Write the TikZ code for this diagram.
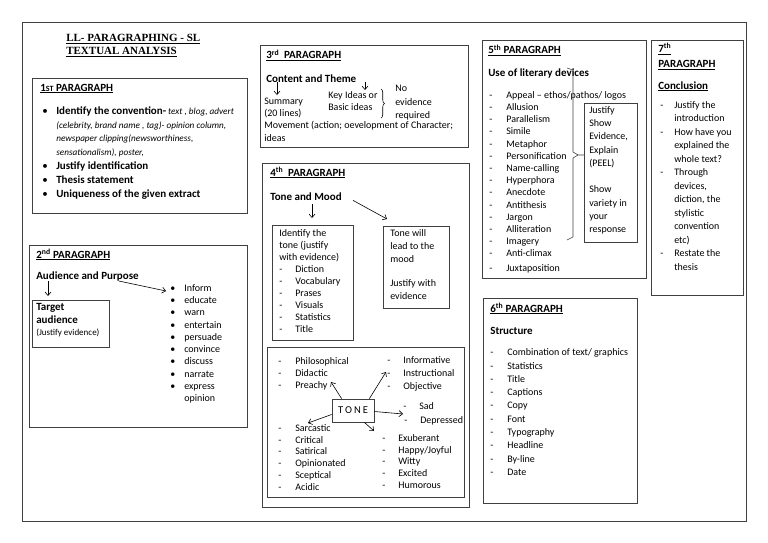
\documentclass[tikz,border=0pt]{standalone}
\usepackage{fontspec}
\setmainfont{Carlito}
\newfontfamily\ttlfont{Liberation Serif}
\usetikzlibrary{arrows.meta,decorations.pathreplacing}
\newcommand{\dd}[2][17pt]{\makebox[#1][l]{-}#2}
\newcommand{\bu}[1]{\makebox[14pt][l]{\textbullet}#1}
\newcommand{\itl}{\fontsize{9.2}{13.8}\selectfont\itshape}
\tikzset{
  frame/.style={draw=black!75, line width=.8pt},
  txt/.style={anchor=north west, inner sep=0pt, align=left, font=\fontsize{10}{#1}\selectfont},
  txt/.default=12,
  hd/.style={anchor=base west, inner sep=0pt, align=left, font=\fontsize{11}{14}\selectfont\bfseries},
}
\begin{document}
\begin{tikzpicture}[>={Straight Barb[length=3.5pt,width=6pt]}, x=1pt, y=-1pt, every path/.append style={line width=.6pt}]
\useasboundingbox (0,0) rectangle (768,543);
\draw[frame] (22,22) rectangle (746,521);
\node[txt, font=\ttlfont\fontsize{11}{13.5}\selectfont\bfseries] (ttl) at (66,33.7) {\underline{LL- PARAGRAPHING - SL}\\\underline{TEXTUAL ANALYSIS}};

\draw[frame] (32,78) rectangle (247,213);
\node[hd] (h1) at (40,91) {\underline{1{\fontsize{8}{8}\selectfont ST} PARAGRAPH}};
\node[txt, font=\fontsize{11}{13.8}\selectfont] (conv) at (42,106.3) {\bu{\textbf{Identify the convention-}}{\itl\ text , blog, advert}\\
\hspace*{14pt}{\itl (celebrity, brand name , tag)- opinion column,}\\
\hspace*{14pt}{\itl newspaper clipping(newsworthiness,}\\
\hspace*{14pt}{\itl sensationalism), poster,}\\
\bu{\textbf{Justify identification}}\\
\bu{\textbf{Thesis statement}}\\
\bu{\textbf{Uniqueness of the given extract}}};

\draw[frame] (29,245) rectangle (247,427);
\node[hd] (h2) at (36,258) {\underline{2\textsuperscript{nd} PARAGRAPH}};
\node[hd] (ap) at (36,279) {Audience and Purpose};
\draw[frame] (32,300) rectangle (109,347);
\node[txt, font=\fontsize{11}{12.5}\selectfont] (tgt) at (36,303.5) {\textbf{Target}\\\textbf{audience}\\{\fontsize{9}{12.5}\selectfont(Justify evidence)}};
\node[txt=12.3] (purp) at (170,284) {\bu{Inform}\\\bu{educate}\\\bu{warn}\\\bu{entertain}\\\bu{persuade}\\\bu{convince}\\\bu{discuss}\\\bu{narrate}\\\bu{express}\\\hspace*{14pt}opinion};
\coordinate (tgttop) at (48,296);
\coordinate (purpin) at (166,291);
\draw[->] (ap.south west -| tgttop) -- (tgttop);
\draw[->] ([xshift=-20pt]ap.south east) -- (purpin);

\draw[frame] (260,45) rectangle (468,147);
\node[hd] (h3) at (266,59) {\underline{3\textsuperscript{rd}\ \ PARAGRAPH}};
\node[hd] (ct) at (266,82) {Content and Theme};
\node[txt=12] (summ) at (264,98) {Summary\\(20 lines)};
\node[txt=12.5] (key) at (328,91) {Key Ideas or\\Basic ideas};
\node[txt=13.5] (noev) at (395,85) {No\\evidence\\required};
\node[txt=13] (mov) at (264,121) {Movement (action; oevelopment of Character;\\ideas};
\coordinate (st) at (277,95);
\coordinate (kt) at (365,90);
\draw[->] (ct.south west -| st) -- (st);
\draw[->] (kt |- ct.base) -- (kt);
\draw[decorate, decoration={brace, amplitude=3.5pt}] (381,89) -- (381,118);

\draw[frame] (262,163) rectangle (469,507);
\node[hd] (h4) at (270,176) {\underline{4\textsuperscript{th}\ \ PARAGRAPH}};
\node[hd] (tm) at (270,200) {Tone and Mood};
\draw[frame] (272,225) rectangle (353,340);
\node[txt=12] (ident) at (279,229) {Identify the\\tone (justify\\with evidence)\\\dd[16pt]{Diction}\\\dd[16pt]{Vocabulary}\\\dd[16pt]{Prases}\\\dd[16pt]{Visuals}\\\dd[16pt]{Statistics}\\\dd[16pt]{Title}};
\draw[frame] (383,226) rectangle (449,308);
\node[txt=13.3] (lead) at (390,229) {Tone will\\lead to the\\mood\\[10pt]Justify with\\evidence};
\coordinate (identin) at (312,218);
\coordinate (leadin) at (387,219);
\draw[->] ([yshift=-4pt]tm.south west -| identin) -- (identin);
\draw[->] ([xshift=11pt]tm.south east) -- (leadin);

\draw[frame] (267,347) rectangle (464,497);
\node[draw=black!75, line width=.8pt, minimum width=42pt, minimum height=23pt, inner sep=0pt, font=\fontsize{10.5}{12}\selectfont] (tone) at (353,410.5) {T\kern2pt O\kern2pt N\kern2pt E};
\node[txt=12] (phil) at (278,357) {\dd{Philosophical}\\\dd{Didactic}\\\dd{Preachy}};
\node[txt=13] (info) at (387,356) {\dd[16pt]{Informative}\\\dd[16pt]{Instructional}\\\dd[16pt]{Objective}};
\node[txt=14] (sad) at (403,402) {\dd[16pt]{Sad}\\\hspace*{1pt}\dd[16pt]{Depressed}};
\node[txt=11.8] (sarc) at (278,424) {\dd{Sarcastic}\\\dd{Critical}\\\dd{Satirical}\\\dd{Opinionated}\\\dd{Sceptical}\\\dd{Acidic}};
\node[txt=11.8] (exub) at (382,434) {\dd[16pt]{Exuberant}\\\dd[16pt]{Happy/Joyful}\\\dd[16pt]{Witty}\\\dd[16pt]{Excited}\\\dd[16pt]{Humorous}};
\coordinate (aphil) at (331,382);
\coordinate (ainfo) at (386,372);
\coordinate (asad) at (403,414);
\coordinate (aexub) at (374,431);
\coordinate (asarc) at (308,423);
\draw[->] ([xshift=10pt]tone.north west) -- (aphil);
\draw[->] ([xshift=-5pt]tone.north east) -- (ainfo);
\draw[->] ([yshift=-1pt]tone.east) -- (asad);
\draw[->] ([xshift=-10pt]tone.south east) -- (aexub);
\draw[->] ([yshift=-4pt]tone.west) -- (asarc);

\draw[frame] (482,40) rectangle (646,278);
\node[hd] (h5) at (488,54) {\underline{5\textsuperscript{th} PARAGRAPH}};
\node[hd] (uld) at (488,76) {Use of literary devices};
\node[txt=12.2] (dev) at (489,91) {\dd{Appeal -- ethos/pathos/ logos}\\\dd{Allusion}\\\dd{Parallelism}\\\dd{Simile}\\\dd{Metaphor}\\\dd{Personification}\\\dd{Name-calling}\\\dd{Hyperphora}\\\dd{Anecdote}\\\dd{Antithesis}\\\dd{Jargon}\\\dd{Alliteration}\\\dd{Imagery}\\\dd{Anti-climax}\\[2pt]\dd{Juxtaposition}};
\draw[frame] (584,103) rectangle (637,242);
\node[txt=13.3] (peel) at (589,106) {Justify\\Show\\Evidence,\\Explain\\(PEEL)\\[13pt]Show\\variety in\\your\\response};
\draw[black!75] (567,68) -- (573,70) -- (573,152) -- (578,155) -- (573,158) -- (573,237) -- (567,240) (578,155) -- (584,155);

\draw[frame] (483,298) rectangle (637,503);
\node[hd] (h6) at (490,312) {\underline{6\textsuperscript{th} PARAGRAPH}};
\node[hd] (struc) at (490,334) {Structure};
\node[txt=13.3] (strl) at (490,348.5) {\dd{Combination of text/ graphics}\\\dd{Statistics}\\\dd{Title}\\\dd{Captions}\\\dd{Copy}\\\dd{Font}\\\dd{Typography}\\\dd{Headline}\\\dd{By-line}\\\dd{Date}};

\draw[frame] (651,40) rectangle (743,295);
\node[txt, font=\fontsize{11}{15}\selectfont\bfseries] (h7) at (658,43) {\underline{7\textsuperscript{th}}\\\underline{PARAGRAPH}};
\node[hd] (concl) at (658,89) {\underline{Conclusion}};
\node[txt=13.5] (cl) at (660,101) {\dd[14pt]{Justify the}\\\hspace*{14pt}introduction\\\dd[14pt]{How have you}\\\hspace*{14pt}explained the\\\hspace*{14pt}whole text?\\\dd[14pt]{Through}\\\hspace*{14pt}devices,\\\hspace*{14pt}diction, the\\\hspace*{14pt}stylistic\\\hspace*{14pt}convention\\\hspace*{14pt}etc)\\\dd[14pt]{Restate the}\\\hspace*{14pt}thesis};
\end{tikzpicture}
\end{document}
